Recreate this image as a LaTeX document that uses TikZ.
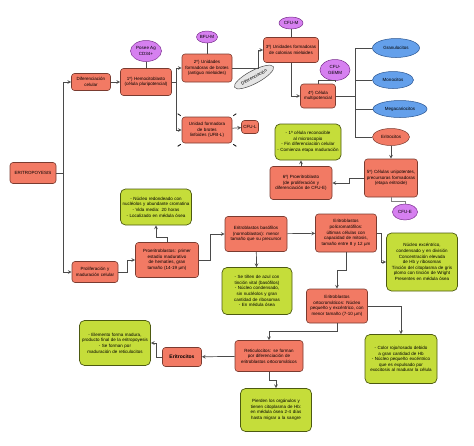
\documentclass[tikz,border=0pt]{standalone}
\usepackage{fontspec}
\setmainfont{Liberation Sans}
\usetikzlibrary{shapes,arrows,positioning,shapes.geometric}
\definecolor{redfill}{HTML}{F27A64}
\definecolor{redline}{HTML}{7A3B30}
\definecolor{greenfill}{HTML}{C5DD3A}
\definecolor{greenline}{HTML}{4D5A10}
\definecolor{violetfill}{HTML}{D680F0}
\definecolor{violetline}{HTML}{7A2E8E}
\definecolor{bluefill}{HTML}{64A0EB}
\definecolor{blueline}{HTML}{2A5590}
\definecolor{wire}{HTML}{4A4A4A}
\hyphenpenalty=10000
\exhyphenpenalty=10000

\begin{document}
\begin{tikzpicture}[
    x=1pt, y=-1pt,
    every node/.style={font=\fontsize{4.5}{5.6}\selectfont},
    process/.style={rectangle, draw=redline, fill=redfill, line width=0.6pt, rounded corners=3pt, text centered, align=center, inner sep=1pt},
    note/.style={rectangle, draw=greenline, fill=greenfill, line width=0.7pt, rounded corners=5pt, text centered, align=center, inner sep=1pt},
    tag/.style={ellipse, draw=violetline, fill=violetfill, line width=0.5pt, inner sep=0pt, align=center},
    cell/.style={ellipse, draw=blueline, fill=bluefill, line width=0.5pt, inner sep=0pt},
    arrow/.style={->, >=stealth, draw=wire, line width=0.7pt},
    line/.style={draw=wire, line width=0.7pt}
]
\useasboundingbox (0,0) rectangle (474,445);

% tronco principal
\node[process, minimum width=46pt, minimum height=21pt] (erit) at (33,173) {ERITROPOYESIS};
\node[process, minimum width=39pt, minimum height=17pt, text width=36pt] (difer) at (91,82) {Diferenciación celular};
\node[process, minimum width=46pt, minimum height=21pt, text width=43pt] (prolif) at (95,272) {Proliferación y maduración celular};
\coordinate (trunk) at (63,173);

% diferenciacion
\node[process, minimum width=51pt, minimum height=27pt, text width=47pt] (hemo) at (146,82) {1º) Hemocitoblasto (célula pluripotencial)};
\node[tag, minimum width=31pt, minimum height=21pt] (cd34) at (146,51) {Posee Ag\\CD34+};
\coordinate (split1) at (176,82);
\node[process, minimum width=50pt, minimum height=28pt, text width=46pt] (bfu) at (207,68) {2º) Unidades formadoras de brotes (antiguo mieloides)};
\node[tag, minimum width=21pt, minimum height=12pt] (bfum) at (207,37) {BFU-M};
\node[process, minimum width=50pt, minimum height=26pt, text width=46pt] (ufbl) at (207,130) {Unidad formadora de brotes linfoides (UFB-L)};
\node[process, minimum width=17pt, minimum height=13pt] (cful) at (250,127) {CFU-L};
\node[process, minimum width=55pt, minimum height=25pt, text width=51pt] (cfumbox) at (291,50) {3º) Unidades formadoras de colonias mieloides};
\node[tag, minimum width=24pt, minimum height=12pt] (cfum) at (291,23) {CFU-M};
\node[ellipse, draw=wire, fill=gray!20, line width=0.5pt, inner sep=0pt, minimum width=44pt, minimum height=13pt, rotate=28] (espec) at (254,77) {Diferenciación};
\node[process, minimum width=35pt, minimum height=24pt, text width=32pt] (multi) at (318,96) {4º) Célula multipotencial};
\node[tag, minimum width=30pt, minimum height=21pt] (gemm) at (335,70) {CFU-\\GEMM};
\coordinate (split2) at (355,96);
\node[cell, minimum width=47pt, minimum height=19pt] (granu) at (396,48) {Granulocitos};
\node[cell, minimum width=41pt, minimum height=17pt] (mono) at (393,80) {Monocitos};
\node[cell, minimum width=54pt, minimum height=17pt] (mega) at (400,109) {Megacariocitos};
\node[ellipse, draw=redline, fill=redfill, line width=0.5pt, inner sep=0pt, minimum width=37pt, minimum height=17pt] (eritro) at (391,137) {Eritrocitos};
\node[process, minimum width=53pt, minimum height=38pt, text width=49pt] (unip) at (391,178) {5º) Células unipotentes, precursoras formadoras (etapa eritroide)};
\node[tag, minimum width=25pt, minimum height=16pt] (cfue) at (405,212) {CFU-E};
\node[process, minimum width=62pt, minimum height=33pt, text width=58pt] (proer) at (301,183) {6º) Proeritroblasto (de proliferación y diferenciación de CFU-E)};
\node[note, minimum width=66pt, minimum height=36pt, text width=62pt] (green1) at (308,142) {- 1ª célula reconocible al microscopio\\- Fin diferenciación celular\\- Comienza etapa maduración};

% maduracion
\node[process, minimum width=63pt, minimum height=35pt, text width=59pt] (proeri) at (167,260) {Proeritroblastos: primer estadío madurativo de hematíes, gran tamaño (14-19 µm)};
\node[note, minimum width=71pt, minimum height=36pt, text width=67pt] (green2) at (156,207) {- Núcleo redondeado con nucléolos y abundante cromatina\\- Vida media: 20 horas\\- Localizado en médula ósea};
\node[process, minimum width=62pt, minimum height=35pt, text width=58pt] (baso) at (256,234) {Eritroblastos basófilos (normoblastos): menor tamaño que su precursor};
\node[note, minimum width=70pt, minimum height=47pt, text width=66pt] (green3) at (257,291) {- Se tiñen de azul con tinción vital (basófilos)\\- Núcleo condensado, sin nucléolos y gran cantidad de ribosomas\\- En médula ósea};
\node[process, minimum width=61pt, minimum height=38pt, text width=57pt] (poli) at (346,233) {Eritroblastos policromatófilos: últimas células con capacidad de mitosis, tamaño entre 8 y 12 µm};
\node[note, minimum width=71pt, minimum height=58pt, text width=67pt] (green4) at (422,262) {Núcleo excéntrico, condensado y en división\\Concentración elevada de Hb y ribosomas\\Tinción del citoplasma de gris plomo con tinción de Wright\\Presentes en médula ósea};
\node[process, minimum width=61pt, minimum height=34pt, text width=57pt] (orto) at (337,306) {Eritroblastos ortocromáticos: Núcleo pequeño y excéntrico, con menor tamaño (7-10 µm)};
\node[note, minimum width=72pt, minimum height=49pt, text width=68pt] (green5) at (401,359) {- Color rojo/rosado debido a gran cantidad de Hb\\- Núcleo pequeño excéntrico que es expulsado por exocitosis al madurar la célula};
\node[process, minimum width=68pt, minimum height=31pt, text width=64pt] (retic) at (269,356) {Reticulocitos: se forman por diferenciación de eritroblastos ortocromáticos};
\node[note, minimum width=71pt, minimum height=43pt, text width=64pt] (green6) at (276,410) {Pierden los orgánulos y tienen citoplasma de Hb: en médula ósea 2-4 días hasta migrar a la sangre};
\node[process, minimum width=39pt, minimum height=19pt, font=\fontsize{5}{6}\selectfont\bfseries] (eritc) at (182,357) {Eritrocitos};
\node[note, minimum width=71pt, minimum height=45pt, text width=67pt] (green7) at (115,343) {- Elemento forma madura, producto final de la eritropoyesis\\- Se forman por maduración de reticulocitos};

% marcas en las esquinas
\foreach \a/\dx/\dy in {north west/-1/-1, north east/1/-1, south west/-1/1, south east/1/1}
    \draw[line width=0.8pt] ([shift={(\dx*1,\dy*1)}]ufbl.\a) -- ++(\dx*3,\dy*2);

% conectores
\draw[line] (erit) -- (trunk);
\draw[arrow] (trunk) |- (difer);
\draw[arrow] (trunk) |- (prolif);
\draw[arrow] (difer) -- (hemo);
\draw[line] (cd34) -- (hemo);
\draw[line] (hemo) -- (split1);
\draw[arrow] (split1) |- (bfu);
\draw[arrow] (split1) |- (ufbl);
\draw[line] (bfum) -- (bfu);
\draw[arrow] (ufbl) -- (cful);
\draw[arrow] (bfu.east) -- ++(26,0) |- (cfumbox.west);
\draw[line] (cfum) -- (cfumbox);
\draw[arrow] (cfumbox.south) |- (multi.west);
\draw[line] (multi.north) -- ++(0,-3) -| (gemm.south);
\draw[line] (multi) -- (split2);
\draw[line] (split2) |- (granu);
\draw[line] (split2) |- (mono);
\draw[line] (split2) |- (mega);
\draw[line] (split2) |- (eritro);
\draw[arrow] (eritro) -- (unip);
\draw[line, draw=gray] (unip.south) -- ++(0,4) -| (cfue.north);
\draw[arrow] (unip.west) -- ++(-15,0) |- (proer.east);
\draw[arrow] (proer.north) -- (proer.north |- green1.south);
\draw[arrow] (prolif.east) -- ++(9,0) |- (proeri.west);
\draw[arrow] (proeri.north) -- ++(0,-5) -| (green2.south);
\draw[arrow] (proeri.east) -- ++(12,0) |- (baso.west);
\draw[arrow] (baso) -- (green3);
\draw[arrow] (baso) -- (poli);
\draw[arrow] (poli.east) -- ++(5,0) |- (green4.west);
\draw[arrow] (poli.south) -- ++(0,18) -| (orto.north);
\draw[arrow] (orto.east) -| (green5.north);
\draw[arrow] (orto.south) -- ++(0,8) -| (retic.north);
\draw[arrow] (retic.south) -- ++(0,9) -| (green6.north);
\draw[arrow] (retic) -- (eritc);
\draw[arrow] (eritc.west) -- ++(-6,0) |- (green7.east);

\end{tikzpicture}
\end{document}
